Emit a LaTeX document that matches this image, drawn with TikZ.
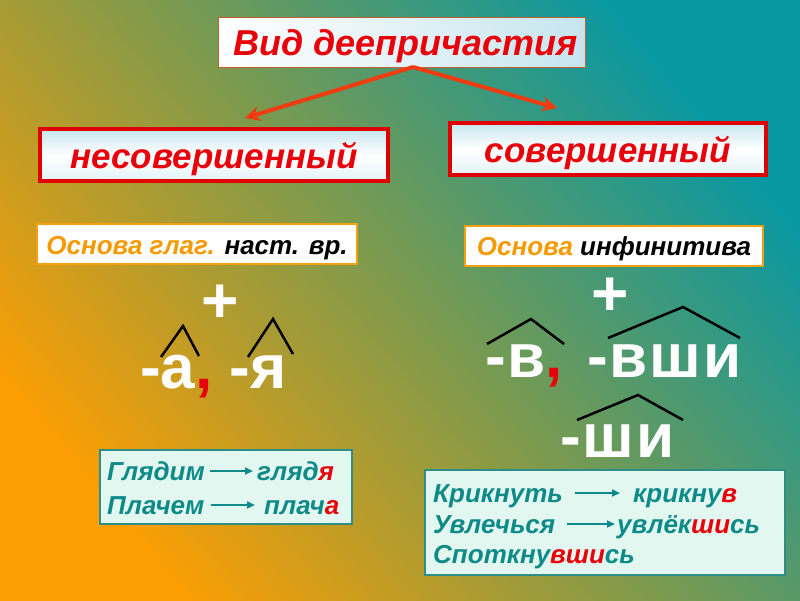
\documentclass[tikz,border=0pt]{standalone}
\usepackage{fontspec}
\setmainfont{Liberation Sans}
\usetikzlibrary{arrows.meta}
\definecolor{bgLL}{HTML}{FA9E04}
\definecolor{bgUR}{HTML}{0898A2}
\definecolor{bgMid}{HTML}{7F9A4C}
\definecolor{txtred}{HTML}{E8000A}
\definecolor{boxred}{HTML}{E00000}
\definecolor{titleedge}{HTML}{C0602E}
\definecolor{paleblue}{HTML}{C6E5EE}
\definecolor{arrowred}{HTML}{F03C10}
\definecolor{orangetxt}{HTML}{F59A00}
\definecolor{orangeedge}{HTML}{F2A010}
\definecolor{tealtxt}{HTML}{0E8A88}
\definecolor{tealedge}{HTML}{2E8E86}
\definecolor{mint}{HTML}{E2F7EF}
\begin{document}
\begin{tikzpicture}[x=1pt,y=-1pt,
  titlebox/.style={draw=titleedge, line width=1pt, left color=white, right color=paleblue,
    minimum width=367pt, minimum height=50pt, inner sep=0pt, text height=26pt, text depth=0pt,
    font=\fontsize{36}{40}\selectfont\bfseries\itshape, text=txtred},
  kindbox/.style={draw=boxred, line width=3.5pt, top color=paleblue, bottom color=paleblue!50, middle color=white,
    inner sep=0pt, minimum height=52pt, text height=26pt, text depth=0pt,
    font=\fontsize{35}{40}\selectfont\bfseries\itshape, text=txtred},
  basebox/.style={draw=orangeedge, line width=2pt, fill=white, inner sep=0pt, minimum height=40pt,
    text height=20pt, text depth=0pt, font=\fontsize{26}{30}\selectfont\bfseries\itshape},
  exbox/.style={draw=tealedge, line width=1.2pt, fill=mint},
  ex/.style={inner sep=0pt, text height=18pt, text depth=0pt,
    font=\fontsize{26}{30}\selectfont\bfseries\itshape, text=tealtxt},
  suffix/.style={inner sep=0pt, text=white, font=\fontsize{62}{70}\selectfont\bfseries},
  plussign/.style={inner sep=0pt, text=white, font=\fontsize{64}{70}\selectfont\bfseries},
  roof/.style={draw=black, line width=2.5pt},
  bigarrow/.style={draw=arrowred, line width=4pt, -{Stealth[length=15pt,width=15pt]}},
  exarrow/.style={draw=tealtxt, line width=2pt, -{Triangle[length=8pt,width=7pt]}}
]
\useasboundingbox (0,0) rectangle (800,600);
\shade[top color=bgUR, bottom color=bgLL, middle color=bgMid, shading angle=-50] (0,0) rectangle (800,600);

% title and kinds
\node[titlebox] (title) at (401.5,42) {\hspace*{8pt}Вид деепричастия};
\node[kindbox, minimum width=348pt] (nesov) at (214,155) {несовершенный};
\node[kindbox, minimum width=316pt] (sov) at (608,149) {совершенный};
\coordinate (split) at (413,67);
\coordinate (lt) at (245,118);
\coordinate (rt) at (557,108);
\draw[bigarrow] (split) -- (lt);
\draw[bigarrow] (split) -- (rt);

% stems
\node[basebox, minimum width=320pt] (stemL) at (197,244) {\textcolor{orangetxt}{Основа глаг.} наст. вр.};
\node[basebox, minimum width=298pt, text height=19pt] (stemR) at (614,245.5) {\textcolor{orangetxt}{Основа} инфинитива};

% left suffixes
\node[plussign] (plusL) at (220,304) {+};
\node[suffix, anchor=base west] (sufL) at (140,388) {-а\textcolor{txtred}{,} -я};
\draw[roof] (161,357) -- (183,326) -- (199,356);
\draw[roof] (248,357) -- (273,319) -- (293,354);

% right suffixes
\node[plussign] (plusR) at (610,297) {+};
\node[suffix, anchor=base west] (sufR) at (485,377) {\addfontfeature{LetterSpace=3}-в\textcolor{txtred}{,}\hspace{5pt} -вши};
\node[suffix, anchor=base west] (sufS) at (560,457) {\addfontfeature{LetterSpace=3}-ши};
\draw[roof] (487,344) -- (531,319) -- (564,344);
\draw[roof] (608,338) -- (683,307) -- (740,338);
\draw[roof] (577,420) -- (638,395) -- (683,420);

% left examples
\node[exbox, minimum width=252pt, minimum height=74pt] (exL) at (226,487) {};
\node[ex, anchor=base west] (g1) at (107,480) {Глядим};
\node[ex, anchor=base west] (g2) at (257,480) {гляд\textcolor{txtred}{я}};
\node[ex, anchor=base west] (p1) at (107,514) {Плачем};
\node[ex, anchor=base west] (p2) at (264,514) {плач\textcolor{txtred}{а}};
\draw[exarrow] ([xshift=5pt]g1.east) -- ([xshift=-4pt]g2.west);
\draw[exarrow] ([xshift=6pt]p1.east) -- ([xshift=-9pt]p2.west);

% right examples
\node[exbox, minimum width=360pt, minimum height=105pt] (exR) at (605,522.5) {};
\node[ex, anchor=base west] (k1) at (433,502) {Крикнуть};
\node[ex, anchor=base west] (k2) at (633,502) {крикну\textcolor{txtred}{в}};
\node[ex, anchor=base west] (u1) at (433,533) {Увлечься};
\node[ex, anchor=base west] (u2) at (617,533) {увлёк\textcolor{txtred}{ши}сь};
\node[ex, anchor=base west] (s1) at (433,563) {Споткну\textcolor{txtred}{вши}сь};
\draw[exarrow] ([xshift=12pt]k1.east) -- ([xshift=-13pt]k2.west);
\draw[exarrow] ([xshift=12pt]u1.east) -- ([xshift=-2pt]u2.west);
\end{tikzpicture}
\end{document}
